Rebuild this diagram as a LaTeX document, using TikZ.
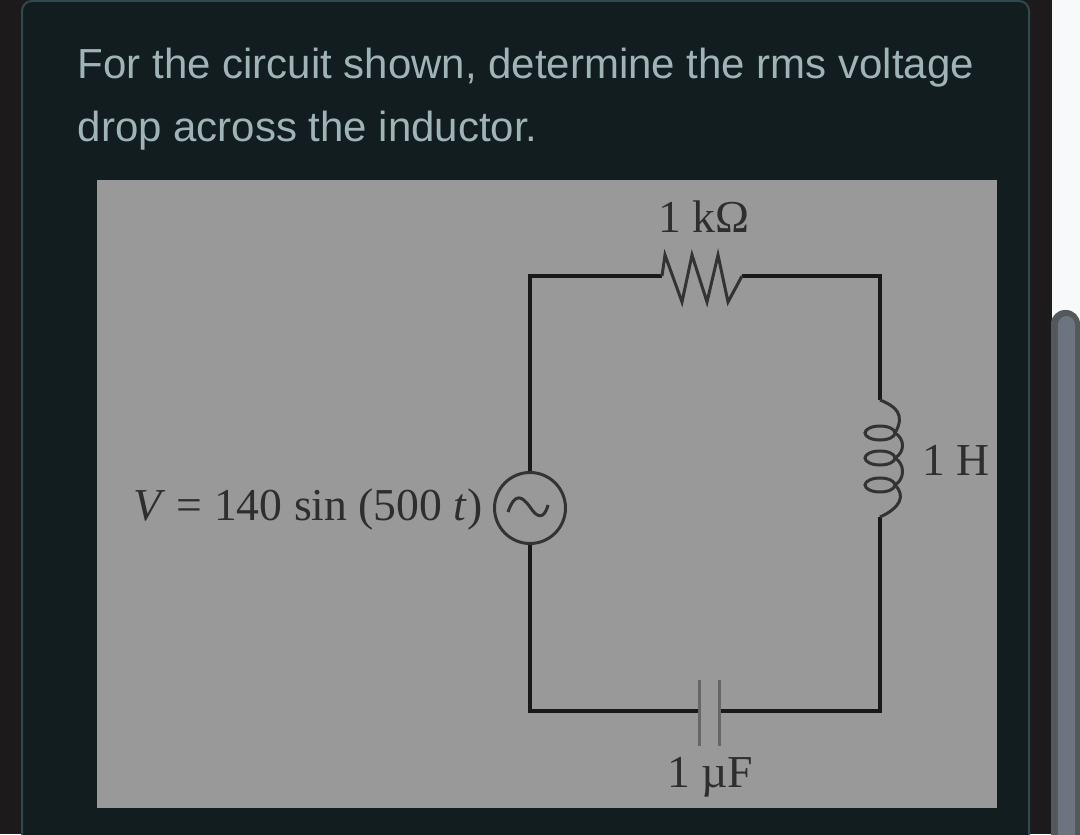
\documentclass[tikz,border=0pt]{standalone}
\usepackage{fontspec}
\setmainfont{Liberation Serif}
\newfontfamily\headfont{Liberation Sans}
\definecolor{pagedark}{HTML}{1C1A1A}
\definecolor{pagelight}{HTML}{F8F9FB}
\definecolor{cardfill}{HTML}{111D1F}
\definecolor{cardedge}{HTML}{2E4A4F}
\definecolor{headtext}{HTML}{A0B4B8}
\definecolor{panelgray}{HTML}{999999}
\definecolor{barouter}{HTML}{55585A}
\definecolor{barinner}{HTML}{6C7480}
\definecolor{labelink}{HTML}{2E2E2E}
\tikzset{
	headline/.style={anchor=base west, inner sep=0, text=headtext, font=\headfont\fontsize{11.95}{14}\selectfont},
	complabel/.style={anchor=base, inner sep=0, text=labelink, font=\fontsize{13}{15}\selectfont},
	wire/.style={line width=0.35mm, color=black!90},
	part/.style={line width=0.3mm, color=black!80},
	plate/.style={line width=0.3mm, color=black!60}
}
\begin{document}
\begin{tikzpicture}
		%%%%% START %%%%%
		\useasboundingbox (0, 0) rectangle (10.8, 8.34);
		
		\fill[pagedark] (0, 0) rectangle (10.52, 8.34);
		\fill[pagelight] (10.52, 0) rectangle (10.8, 8.34);
		\fill[barouter, rounded corners=1.4mm] (10.51, -0.3) -- (10.51, 5.24) -- (10.8, 5.24) -- (10.8, -0.3);
		\fill[barinner, rounded corners=0.85mm] (10.58, -0.3) -- (10.58, 5.18) -- (10.75, 5.18) -- (10.75, -0.3) -- cycle;
		
		\draw[cardedge, fill=cardfill, line width=0.2mm, rounded corners=1mm] (0.22, -0.2) -- (0.22, 8.33) -- (10.29, 8.33) -- (10.29, -0.2);
		\fill[panelgray] (0.97, 0.26) rectangle (9.97, 6.54);
		
		\node[headline] (line1) at (0.77, 7.55) {For the circuit shown, determine the rms voltage};
		\node[headline] (line2) at (0.77, 6.92) {drop across the inductor.};
		
		\coordinate (topleft) at (5.30, 5.58);
		\coordinate (topright) at (8.80, 5.58);
		\coordinate (botleft) at (5.30, 1.23);
		\coordinate (botright) at (8.80, 1.23);
		\coordinate (resin) at (6.62, 5.58);
		\coordinate (resout) at (7.42, 5.58);
		\coordinate (coilin) at (8.80, 4.34);
		\coordinate (coilout) at (8.80, 3.17);
		\coordinate (capin) at (6.99, 1.23);
		\coordinate (capout) at (7.19, 1.23);
		
		\node[draw, circle, part, minimum size=0.71cm, inner sep=0] (source) at (5.30, 3.26) {};
		
		\draw[wire] (source.north) -- (topleft) -- (resin);
		\draw[wire] (resout) -- (topright) -- (coilin);
		\draw[wire] (coilout) -- (botright) -- (capout);
		\draw[wire] (capin) -- (botleft) -- (source.south);
		
		% resistor
		\draw[part] (resin) -- (6.65, 5.79) -- (6.82, 5.32) -- (6.92, 5.79) -- (7.07, 5.32) -- (7.18, 5.79) -- (7.28, 5.32) -- (resout);
		
		% inductor
		\draw[part] (coilin) .. controls (8.95, 4.28) and (9.06, 4.20) .. (8.95, 4.01);
		\draw[part] (8.95, 4.01) .. controls (9.05, 3.95) and (9.05, 3.82) .. (8.95, 3.76);
		\draw[part] (8.95, 3.76) .. controls (9.05, 3.70) and (9.05, 3.55) .. (8.95, 3.49);
		\draw[part] (8.95, 3.49) .. controls (9.06, 3.38) and (9.00, 3.26) .. (coilout);
		\draw[part] (8.80, 4.01) ellipse (0.15 and 0.07);
		\draw[part] (8.80, 3.76) ellipse (0.15 and 0.07);
		\draw[part] (8.80, 3.49) ellipse (0.15 and 0.07);
		
		% capacitor
		\draw[plate] (capin) ++(0, 0.31) -- ++(0, -0.66);
		\draw[plate] (capout) ++(0, 0.31) -- ++(0, -0.66);
		
		% source wave
		\draw[part] (5.08, 3.22) .. controls (5.15, 3.42) and (5.22, 3.38) .. (5.30, 3.27) .. controls (5.37, 3.16) and (5.44, 3.14) .. (5.48, 3.29);
		
		\node[complabel] (reslabel) at (7.04, 6.01) {1 kΩ};
		\node[complabel] (coillabel) at (9.56, 3.59) {1 H};
		\node[complabel] (caplabel) at (7.10, 0.47) {1 µF};
		\node[complabel] (srclabel) at (3.08, 3.14) {\textit{V} = 140 sin (500 \textit{t})};
		
		%%%%% END %%%%%
	\end{tikzpicture}
\end{document}
